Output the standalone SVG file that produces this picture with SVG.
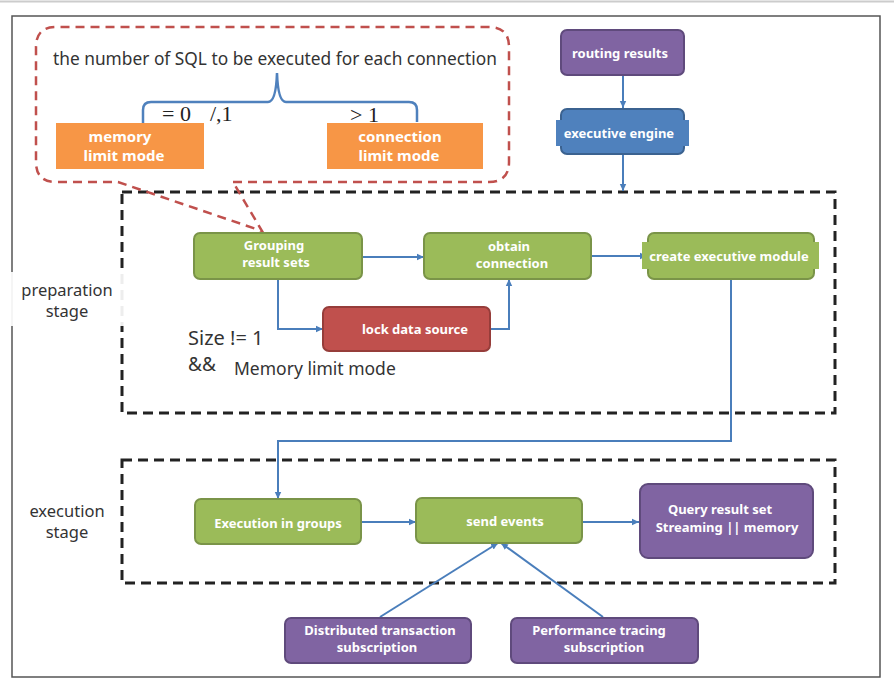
<svg xmlns="http://www.w3.org/2000/svg" width="894" height="689" viewBox="0 0 894 689">
<defs>
<marker id="ah" markerUnits="userSpaceOnUse" markerWidth="8" markerHeight="8" refX="7" refY="4" orient="auto">
<path d="M0,0.8 L7,4 L0,7.2 Z" fill="#4a7ebb"/>
</marker>
<style>
.t{font-family:"Noto Sans","Open Sans","DejaVu Sans",sans-serif;}
.w{fill:#fff;font-weight:bold;font-size:13px;text-anchor:middle;}
.w15{font-size:15px;}
.d{fill:#333;}
.g{fill:#9bbb59;stroke:#7a9448;stroke-width:2;}
.p{fill:#8064a2;stroke:#5f4a7c;stroke-width:2;}
.b{fill:#4f81bd;stroke:#3b6290;stroke-width:2;}
.r{fill:#c0504d;stroke:#963d3a;stroke-width:2;}
.o{fill:#f79646;}
.dash{fill:none;stroke:#222;stroke-width:3;stroke-dasharray:10 6;}
.c{fill:none;stroke:#4a7ebb;stroke-width:2;}
</style>
</defs>
<rect width="894" height="689" fill="#fff"/>
<line x1="0" y1="1.5" x2="894" y2="1.5" stroke="#ccc" stroke-width="2"/>
<rect x="12" y="16" width="868" height="661" fill="none" stroke="#555" stroke-width="1.5"/>

<!-- stage boxes -->
<rect class="dash" x="122" y="192" width="713" height="221"/>
<rect class="dash" x="122" y="460" width="713" height="123"/>

<!-- labels -->
<g id="label-prep">
<rect x="6" y="272" width="123" height="54" fill="#fff" fill-opacity="0.92"/>
<text class="t d" font-size="16.5" text-anchor="middle"><tspan x="67" y="296">preparation</tspan><tspan x="67" y="317">stage</tspan></text>
</g>
<g id="label-exec">
<text class="t d" font-size="16.5" text-anchor="middle"><tspan x="67" y="517">execution</tspan><tspan x="67" y="538">stage</tspan></text>
</g>

<!-- callout -->
<g id="callout">
<path d="M233,182 L489,182 Q509,182 509,162 L509,47 Q509,27 489,27 L56,27 Q36,27 36,47 L36,162 Q36,182 56,182 L118,182 L262,231 L233,182" fill="none" stroke="#c0504d" stroke-width="2.5" stroke-dasharray="9 6"/>
<text class="t d" x="275" y="65" font-size="17.5" text-anchor="middle" textLength="444" lengthAdjust="spacingAndGlyphs">the number of SQL to be executed for each connection</text>
<path d="M143,126 L143,110 Q143,102 151,102 L268,102 Q276,102 277,73 Q278,102 286,102 L409,102 Q417,102 417,110 L417,122" fill="none" stroke="#4f81bd" stroke-width="2.5"/>
<text x="162" y="121" font-family="Liberation Serif, serif" font-size="22" fill="#222">= 0</text>
<rect x="201" y="104" width="18" height="27" fill="#fff"/>
<text x="210" y="121" font-family="Liberation Serif, serif" font-size="22" fill="#222">/,1</text>
<text x="350" y="122" font-family="Liberation Serif, serif" font-size="22" fill="#222">&gt; 1</text>
</g>
<g id="memory-limit-mode">
<rect class="o" x="56" y="123" width="148" height="46"/>
<text class="t w w15"><tspan x="120" y="142">memory</tspan><tspan x="124" y="161">limit mode</tspan></text>
</g>
<g id="connection-limit-mode">
<rect class="o" x="327" y="123" width="156" height="46"/>
<text class="t w w15"><tspan x="400" y="142">connection</tspan><tspan x="399" y="161">limit mode</tspan></text>
</g>

<!-- connectors -->
<g id="connectors">
<path class="c" d="M623,75 L623,108" marker-end="url(#ah)"/>
<path class="c" d="M623,154 L623,191" marker-end="url(#ah)"/>
<path class="c" d="M362,257 L424,257" marker-end="url(#ah)"/>
<path class="c" d="M591,256 L647,256" marker-end="url(#ah)"/>
<path class="c" d="M278,279 L278,329 L323,329" marker-end="url(#ah)"/>
<path class="c" d="M490,329 L509,329 L509,279" marker-end="url(#ah)"/>
<path class="c" d="M731,279 L731,441 L278,441 L278,499" marker-end="url(#ah)"/>
<path class="c" d="M361,522 L416,522" marker-end="url(#ah)"/>
<path class="c" d="M582,522 L639,522" marker-end="url(#ah)"/>
<path class="c" d="M380,617 L498,543" marker-end="url(#ah)"/>
<path class="c" d="M603,617 L501,543" marker-end="url(#ah)"/>
</g>

<!-- nodes -->
<g id="routing-results">
<rect class="p" x="561" y="30" width="123" height="45" rx="6"/>
<text class="t w" x="620" y="58">routing results</text>
</g>
<g id="executive-engine">
<rect class="b" x="561" y="109" width="123" height="45" rx="6"/>
<rect x="556" y="120" width="133" height="26" fill="#4f81bd"/>
<text class="t w" x="619" y="138">executive engine</text>
</g>
<g id="grouping-result-sets">
<rect class="g" x="194" y="233" width="168" height="46" rx="6"/>
<text class="t w"><tspan x="274" y="250">Grouping</tspan><tspan x="276" y="267">result sets</tspan></text>
</g>
<g id="obtain-connection">
<rect class="g" x="424" y="233" width="167" height="46" rx="6"/>
<text class="t w"><tspan x="509" y="251">obtain</tspan><tspan x="512" y="268">connection</tspan></text>
</g>
<g id="create-executive-module">
<rect class="g" x="648" y="233" width="166" height="46" rx="6"/>
<rect x="642" y="242" width="177" height="27" fill="#9bbb59"/>
<text class="t w" x="729" y="261">create executive module</text>
</g>
<g id="lock-data-source">
<rect class="r" x="323" y="307" width="167" height="44" rx="6"/>
<text class="t w" x="415" y="334">lock data source</text>
</g>
<g id="condition">
<text class="t d" x="188" y="345" font-size="20">Size != 1</text>
<text class="t d" x="188" y="371" font-size="19">&amp;&amp;</text>
<text class="t d" x="234" y="375" font-size="17.5">Memory limit mode</text>
</g>
<g id="execution-in-groups">
<rect class="g" x="195" y="499" width="166" height="45" rx="6"/>
<text class="t w" x="278" y="528">Execution in groups</text>
</g>
<g id="send-events">
<rect class="g" x="416" y="498" width="166" height="45" rx="6"/>
<text class="t w" x="505" y="526">send events</text>
</g>
<g id="query-result-set">
<rect class="p" x="640" y="484" width="173" height="74" rx="8"/>
<text class="t w"><tspan x="720" y="514">Query result set</tspan><tspan x="727" y="532">Streaming || memory</tspan></text>
</g>
<g id="distributed-transaction-subscription">
<rect class="p" x="285" y="618" width="186" height="45" rx="6"/>
<text class="t w"><tspan x="380" y="635">Distributed transaction</tspan><tspan x="377" y="652">subscription</tspan></text>
</g>
<g id="performance-tracing-subscription">
<rect class="p" x="511" y="618" width="187" height="45" rx="6"/>
<text class="t w"><tspan x="599" y="635">Performance tracing</tspan><tspan x="604" y="652">subscription</tspan></text>
</g>
</svg>
